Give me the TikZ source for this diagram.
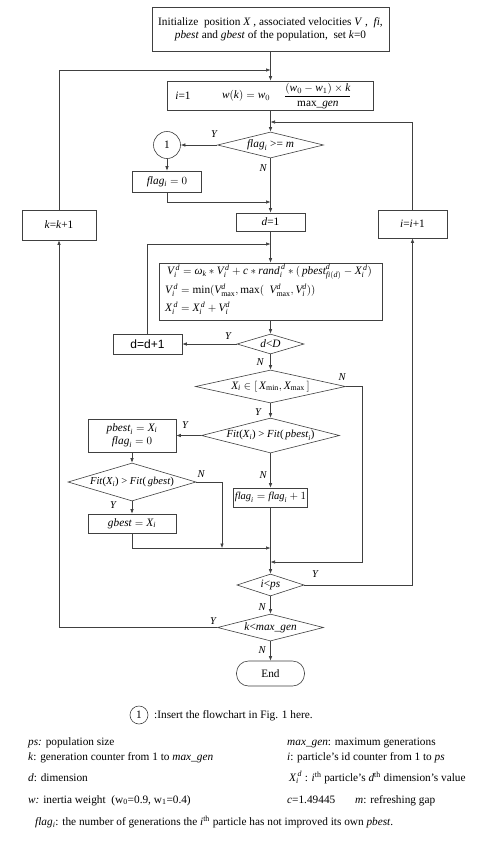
\documentclass[tikz,border=0pt]{standalone}
\usepackage{amsmath}
\usepackage{fontspec}
\setmainfont{Liberation Serif}
\newfontfamily\sansf{Liberation Sans}
\usetikzlibrary{shapes.geometric,arrows.meta}
\newcommand{\tv}[1]{\textit{#1}}
\begin{document}
\begin{tikzpicture}[x=1pt,y=-1pt, font=\fontsize{11.3}{13.5}\selectfont,
  ln/.style={line width=0.6pt, draw=black!75},
  arr/.style={ln, -{Latex[length=4.5pt,width=3.5pt]}},
  box/.style={draw=black!75, line width=0.6pt, rectangle, inner sep=0pt, align=center},
  dia/.style={draw=black!75, line width=0.6pt, diamond, inner sep=0pt},
  lab/.style={font=\fontsize{10.5}{12}\selectfont\itshape, inner sep=1pt},
  txt/.style={inner sep=0pt, anchor=base west}]
\useasboundingbox[fill=white] (0,0) rectangle (484,862);

% nodes
\node[box, minimum width=237pt, minimum height=44pt] (init) at (270.5,29)
  {Initialize\ \ position \tv{X} , associated velocities \tv{V} ,\ \ \tv{fi},\\
   \tv{pbest} and \tv{gbest} of the population,\ \ set \tv{k}=0};
\node[box, minimum width=206pt, minimum height=29pt] (wbox) at (270.5,95.5) {};
\node[inner sep=0pt] (wi) at (183,96) {\tv{i}=1};
\node[inner sep=0pt, anchor=west] (wf) at (222,96)
  {$\tv{w}(\tv{k}) = \tv{w}_0\quad\ \dfrac{(\tv{w}_0-\tv{w}_1)\times \tv{k}}{\text{max\_\tv{gen}}}$};

\node[dia, minimum width=106pt, minimum height=26pt] (flagd) at (270.5,145) {};
\node[inner sep=0pt] (flagdt) at (flagd) {$\tv{flag}_{\tv{i}}$ >= \tv{m}};
\node[circle, draw=black!75, line width=0.6pt, minimum size=27pt, inner sep=0pt] (c1) at (167,145) {1};
\node[box, minimum width=69pt, minimum height=21pt] (flag0) at (167,181.5) {$\tv{flag}_{\tv{i}} = 0$};

\node[box, minimum width=69pt, minimum height=18pt] (d1) at (270.5,222) {\tv{d}=1};
\node[box, minimum width=74pt, minimum height=30pt] (kbox) at (59,225) {\tv{k}=\tv{k}+1};
\node[box, minimum width=69pt, minimum height=28pt] (ibox) at (412.5,224) {\tv{i}=\tv{i}+1};

\node[box, minimum width=223pt, minimum height=57pt] (Vbox) at (270.5,291.5) {};
\node[inner sep=0pt, anchor=west] (v1) at (167,272)
  {$\tv{V}_{\tv{i}}^{\,\tv{d}} = \tv{ω}_{\tv{k}} * \tv{V}_{\tv{i}}^{\,\tv{d}} + \tv{c} * \tv{rand}_{\tv{i}}^{\,\tv{d}} * (\,\tv{pbest}^{\tv{d}}_{\tv{fi}(\tv{d})} - \tv{X}_{\tv{i}}^{\,\tv{d}})$};
\node[inner sep=0pt, anchor=west] (v2) at (165,290)
  {$\tv{V}_{\tv{i}}^{\,\tv{d}} = \text{min}(\tv{V}^{\tv{d}}_{\text{max}}, \text{max}(\ \ \tv{V}^{\tv{d}}_{\text{max}}, \tv{V}_{\tv{i}}^{\tv{d}}))$};
\node[inner sep=0pt, anchor=west] (v3) at (165,308)
  {$\tv{X}_{\tv{i}}^{\,\tv{d}} = \tv{X}_{\tv{i}}^{\,\tv{d}} + \tv{V}_{\tv{i}}^{\tv{d}}$};

\node[dia, minimum width=67pt, minimum height=20pt] (dD) at (270.5,344) {};
\node[inner sep=0pt] (dDt) at (dD) {\tv{d}<\tv{D}};
\node[box, minimum width=69pt, minimum height=20pt, font=\fontsize{12}{14}\selectfont] (dd1) at (147.5,344) {\sansf d=d+1};

\node[dia, minimum width=150pt, minimum height=33pt] (Xd) at (270.5,386.5) {};
\node[inner sep=0pt] (Xdt) at (Xd) {$\tv{X}_{\tv{i}} \in [\,\tv{X}_{\text{min}}, \tv{X}_{\text{max}}\,]$};

\node[dia, minimum width=138pt, minimum height=35pt] (fitp) at (270.5,435.5) {};
\node[inner sep=0pt, font=\fontsize{10.8}{13}\selectfont] (fitpt) at (fitp) {\tv{Fit}($\tv{X}_{\tv{i}}$) > \tv{Fit}(\,$\tv{pbest}_{\tv{i}}$)};
\node[box, minimum width=88pt, minimum height=33pt] (pb) at (132,435.5)
  {$\tv{pbest}_{\tv{i}} = \tv{X}_{\tv{i}}$\\[0pt] $\tv{flag}_{\tv{i}} = 0$};
\node[dia, minimum width=128pt, minimum height=38pt] (fitg) at (132,482) {};
\node[inner sep=0pt, font=\fontsize{10.6}{13}\selectfont] (fitgt) at (fitg) {\tv{Fit}($\tv{X}_{\tv{i}}$) > \tv{Fit}(\,\tv{gbest})};
\node[box, minimum width=88pt, minimum height=19pt] (gb) at (132,523.5) {$\tv{gbest} = \tv{X}_{\tv{i}}$};
\node[box, minimum width=74pt, minimum height=19pt, font=\fontsize{10.5}{12}\selectfont] (flinc) at (270.5,497.5)
  {$\tv{flag}_{\tv{i}} = \tv{flag}_{\tv{i}} + 1$};

\node[dia, minimum width=67pt, minimum height=22pt] (ips) at (270.5,585) {};
\node[inner sep=0pt] (ipst) at (ips) {\tv{i}<\tv{ps}};
\node[dia, minimum width=106pt, minimum height=27pt] (kd) at (270.5,627.5) {};
\node[inner sep=0pt] (kdt) at (kd) {\tv{k}<\tv{max\_gen}};
\node[box, rounded corners=12pt, minimum width=68pt, minimum height=25pt] (end) at (270.5,673.5) {End};

% junction coordinates
\coordinate (j1) at (270.5,70);
\coordinate (j2) at (270.5,122);
\coordinate (j3) at (270.5,202);
\coordinate (j4) at (270.5,244);
\coordinate (j5) at (270.5,562);
\coordinate (j6) at (270.5,548);
\coordinate (j7) at (222,548);
\coordinate (xr) at (362,386.5);

% connectors
\draw[arr] (init) -- (wbox);
\draw[arr] (kbox.north) |- (j1);
\draw[arr] (wbox) -- (flagd);
\draw[arr] (ibox.north) |- (j2);
\draw[arr] (flagd.west) -- (c1.east);
\draw[arr] (c1) -- (flag0);
\draw[arr] (flag0.south) |- (j3);
\draw[arr] (flagd.south) -- (d1.north);
\draw[arr] (d1) -- (Vbox);
\draw[arr] (dd1.north) |- (j4);
\draw[arr] (Vbox) -- (dD);
\draw[arr] (dD.west) -- (dd1.east);
\draw[arr] (dD.south) -- (Xd.north);
\draw[arr] (Xd.east) -- (xr) |- (j5);
\draw[arr] (Xd.south) -- (fitp.north);
\draw[arr] (fitp.west) -- (pb.east);
\draw[arr] (pb.south) -- (fitg.north);
\draw[arr] (fitg.east) -| (j7);
\draw[arr] (fitg.south) -- (gb.north);
\draw[arr] (gb.south) |- (j6);
\draw[arr] (fitp.south) -- (flinc.north);
\draw[arr] (flinc.south) -- (ips.north);
\draw[arr] (ips.east) -| (ibox.south);
\draw[arr] (ips.south) -- (kd.north);
\draw[arr] (kd.west) -| (kbox.south);
\draw[arr] (kd.south) -- (end.north);

% Y / N labels
\node[lab] (l1) at (214,134) {Y};
\node[lab] (l2) at (263,168) {N};
\node[lab] (l3) at (228,336) {Y};
\node[lab] (l4) at (260,362) {N};
\node[lab] (l5) at (342,377) {N};
\node[lab] (l6) at (258,412) {Y};
\node[lab] (l7) at (185,425) {Y};
\node[lab] (l8) at (201,474) {N};
\node[lab] (l9) at (113,505) {Y};
\node[lab] (l10) at (263,475) {N};
\node[lab] (l11) at (315,574) {Y};
\node[lab] (l12) at (262,607) {N};
\node[lab] (l13) at (213,621) {Y};
\node[lab] (l14) at (262,650) {N};

% legend
\node[circle, draw=black!75, line width=0.6pt, minimum size=18pt, inner sep=0pt] (c2) at (139,715) {1};
\node[inner sep=0pt, anchor=west] (ins) at (154,716) {:Insert the flowchart in Fig. 1 here.};

\node[txt] (g1) at (28,745) {\tv{ps:} population size};
\node[txt] (g2) at (287,745) {\tv{max\_gen}: maximum generations};
\node[txt] (g3) at (28,760) {\tv{k}: generation counter from 1 to \tv{max\_gen}};
\node[txt] (g4) at (287,760) {\tv{i}: particle's id counter from 1 to \tv{ps}};
\node[txt] (g5) at (28,781) {\tv{d}: dimension};
\node[txt] (g6) at (289,781) {$\tv{X}_{\tv{i}}^{\,\tv{d}}$ : \tv{i}\textsuperscript{th} particle's \tv{d}\textsuperscript{th} dimension's value};
\node[txt] (g7) at (28,803) {\tv{w:} inertia weight\ \ (w\textsubscript{0}=0.9, w\textsubscript{1}=0.4)};
\node[txt] (g8) at (287,803) {\tv{c}=1.49445};
\node[txt] (g9) at (355,803) {\tv{m}: refreshing gap};
\node[txt] (g10) at (35,825) {$\tv{flag}_{\tv{i}}$: the number of generations the \tv{i}\textsuperscript{th} particle has not improved its own \tv{pbest}.};
\end{tikzpicture}
\end{document}
